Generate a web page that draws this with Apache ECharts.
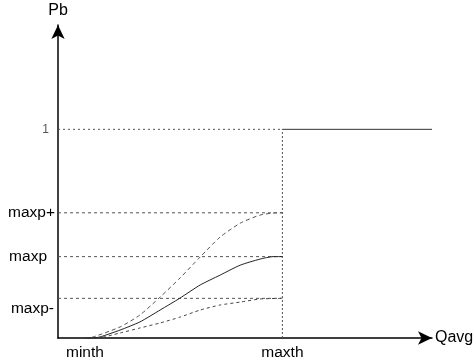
<!DOCTYPE html>
<html>
<head>
<meta charset="utf-8">
<script src="https://cdn.jsdelivr.net/npm/echarts@6/dist/echarts.min.js"></script>
<style>
html,body{margin:0;padding:0;background:#fff;}
#chart{width:474px;height:362px;}
</style>
</head>
<body>
<div id="chart"></div>
<script>
// ---- data ----
const minth = 7.2;
const maxth = 60;
const qMax = 100;
const pMax = 1.5;
const xTickValues = [minth, maxth];
const xTickLabels = ['minth', 'maxth'];
const yTickValues = [0.19, 0.39, 0.6, 1];
const yTickLabels = ['maxp-', 'maxp', 'maxp+', '1'];

const midX = [7.2, 9.1, 11.2, 16.6, 21.9, 27.3, 32.6, 38.0, 43.3, 48.7, 54.0, 57.5, 60];
const midY = [0, 0, 0.005, 0.038, 0.077, 0.134, 0.191, 0.254, 0.301, 0.349, 0.378, 0.39, 0.39];
const upperX = [7.2, 9.4, 16.6, 21.9, 27.3, 32.6, 38.0, 43.3, 48.7, 54.0, 58.6, 60];
const upperY = [0, 0.005, 0.053, 0.110, 0.196, 0.287, 0.388, 0.483, 0.550, 0.589, 0.6, 0.6];
const lowerX = [7.2, 10.4, 16.6, 21.9, 27.3, 32.6, 38.0, 43.3, 48.7, 54.0, 60];
const lowerY = [0, 0, 0.024, 0.048, 0.072, 0.100, 0.134, 0.158, 0.172, 0.187, 0.19];
const stepX = [maxth, qMax];
const stepY = [1, 1];

// ---- build ----
const zip = (xs, ys) => xs.map((x, i) => [x, ys[i]]);
const FONT = '"Liberation Sans", Arial, sans-serif';

const guideSeries = yTickValues.map((v, i) => ({
  type: 'line', silent: true, symbol: 'none', animation: false,
  data: [[0, v], [maxth, v]],
  lineStyle: { color: '#555', width: 1, type: v === 1 ? [2, 3] : [3, 3] },
  z: 1
}));

const chart = echarts.init(document.getElementById('chart'), null, { renderer: 'canvas' });
chart.setOption({
  backgroundColor: '#fff',
  animation: false,
  grid: { left: 58, right: 42, top: 25, bottom: 24, containLabel: false, outerBoundsMode: 'none' },
  xAxis: {
    type: 'value', min: 0, max: qMax,
    name: 'Qavg', nameLocation: 'end', nameGap: 3,
    nameTextStyle: { fontFamily: FONT, fontSize: 16, color: '#000', verticalAlign: 'middle' },
    axisLine: { show: true, lineStyle: { color: '#000', width: 1.5 }, symbol: ['none', 'arrow'], symbolSize: [10, 14] },
    axisTick: { show: false },
    splitLine: { show: false },
    axisLabel: {
      customValues: xTickValues,
      margin: 7,
      fontFamily: FONT, fontSize: 15.5, color: '#000',
      formatter: v => xTickLabels[xTickValues.indexOf(v)] || ''
    }
  },
  yAxis: {
    type: 'value', min: 0, max: pMax,
    name: 'Pb', nameLocation: 'end', nameGap: 6,
    nameTextStyle: { fontFamily: FONT, fontSize: 16, color: '#000', align: 'center' },
    axisLine: { show: true, lineStyle: { color: '#000', width: 1.5 }, symbol: ['none', 'arrow'], symbolSize: [10, 14] },
    axisTick: { show: false },
    splitLine: { show: false },
    axisLabel: {
      customValues: yTickValues,
      margin: 3,
      fontFamily: FONT, fontSize: 15.5, color: '#000',
      formatter: v => {
        const s = yTickLabels[yTickValues.indexOf(v)] || '';
        if (s === '1') return '{one|1}';
        if (s === 'maxp') return '{mid|maxp}';
        if (s === 'maxp-') return '{low|maxp-}';
        return s;
      },
      rich: {
        one: { fontFamily: FONT, fontSize: 12, color: '#555', padding: [0, 6, 0, 0] },
        mid: { fontFamily: FONT, fontSize: 15.5, color: '#000', padding: [0, 8, 0, 0] },
        low: { fontFamily: FONT, fontSize: 15.5, color: '#000', padding: [20, 1, 0, 0] }
      }
    }
  },
  series: guideSeries.concat([
    {
      type: 'line', silent: true, symbol: 'none', animation: false, z: 1,
      data: [[maxth, 0], [maxth, 1]],
      lineStyle: { color: '#555', width: 1, type: [2, 2] }
    },
    {
      type: 'line', silent: true, symbol: 'none', smooth: 0.2, z: 3,
      data: zip(upperX, upperY),
      lineStyle: { color: '#555', width: 1, type: [4, 3] }
    },
    {
      type: 'line', silent: true, symbol: 'none', smooth: 0.2, z: 3,
      data: zip(midX, midY),
      lineStyle: { color: '#222', width: 1 }
    },
    {
      type: 'line', silent: true, symbol: 'none', smooth: 0.2, z: 3,
      data: zip(lowerX, lowerY),
      lineStyle: { color: '#444', width: 1, type: [3, 3] }
    },
    {
      type: 'line', silent: true, symbol: 'none', z: 3,
      data: zip(stepX, stepY),
      lineStyle: { color: '#333', width: 1 }
    }
  ])
});
</script>
</body>
</html>
